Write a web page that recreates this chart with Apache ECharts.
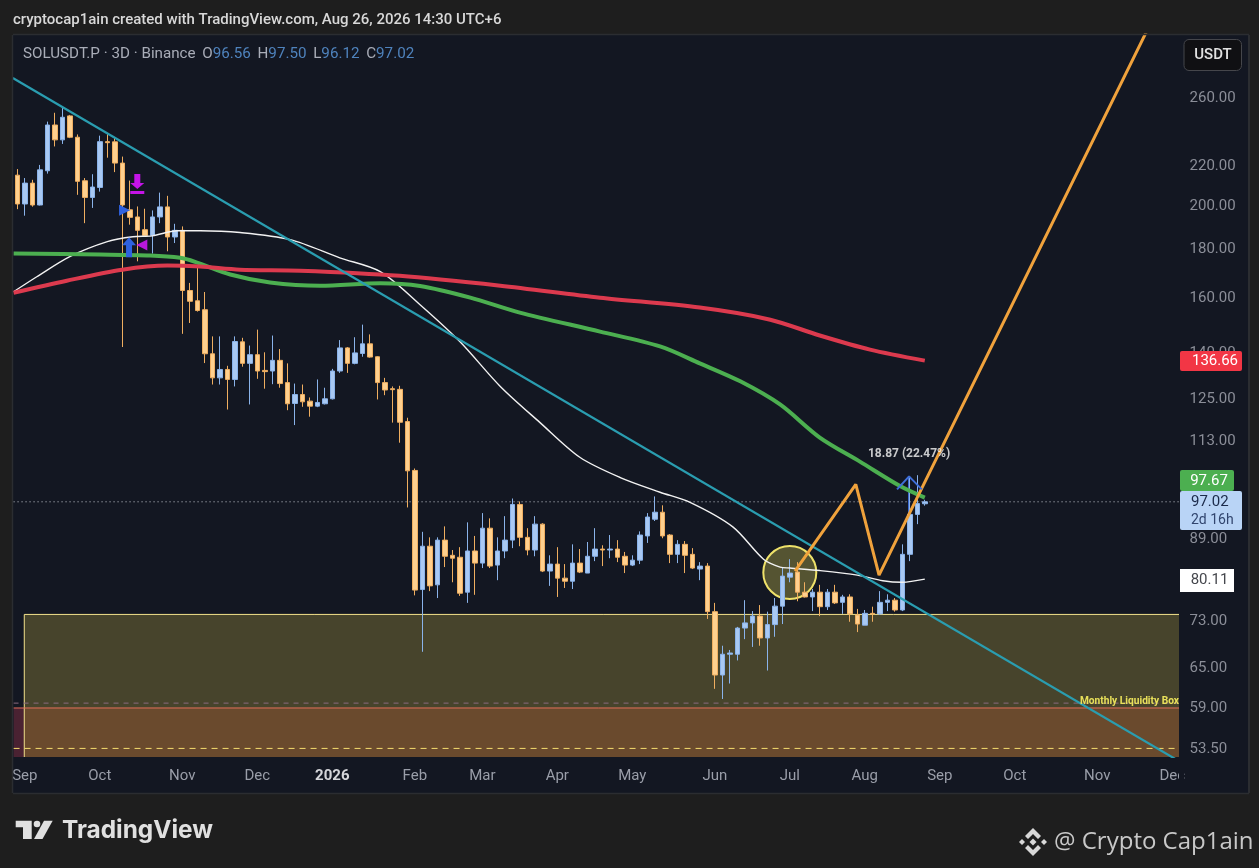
<!DOCTYPE html>
<html><head><meta charset="utf-8">
<style>html,body{margin:0;padding:0;background:#1e1e1e}#c{width:1259px;height:868px}</style>
<script src="https://cdn.jsdelivr.net/npm/echarts@6/dist/echarts.min.js"></script>
</head><body><div id="c"></div>
<script>
const opens=[214.5,200,210.4,199.5,216.8,242.3,233.7,247.7,235.2,211.6,
203.2,208.2,232.7,232.6,220.9,197.2,193.8,187.9,185.3,193.8,
198.6,184.6,187.6,162.1,158.1,154.7,139,131.1,133.8,130.6,
143.1,135.8,138.7,133.5,133.3,136.8,129.6,123.2,125.9,123.9,
122.4,123.1,124.6,133.3,141,135.8,139.1,142.4,138,129.6,
127.7,127.5,117.9,104.7,78.4,87.1,79.3,88.4,85.2,84.8,
77.9,86.1,83.6,91,83.2,86.1,88.4,96.4,89,86.3,
91.9,82,83.4,80.6,80,83.6,81.6,85,86.5,86.3,
86.5,85,83.2,84.2,89.3,93,94.6,89.5,85.4,87.5,
85.4,82.4,83,74.3,63.7,67,67,71.4,72.3,73.5,
69.7,72,75.3,80.8,81.8,77.9,77,77.9,75.2,77.9,
76,77,73.7,71.9,74,73.9,76,76.4,74.6,85.4,
94.1,96.56];
const closes=[200,210.4,199.5,217.3,242.3,233.7,246.9,235.2,211.3,203.2,
208.4,232.7,232.1,220.9,199.5,193.6,187.6,185.3,193.8,198.6,
184.6,187.6,162.1,157.9,154.4,139,131.1,133.8,130.6,143.2,
135.8,138.7,133.3,133.1,136.8,129.3,123.1,125.9,123.7,122.4,
123.5,124.6,133.3,141,135.8,139.3,142.4,137.9,129.6,127.3,
127.4,117.7,104.6,78.3,87.1,79.1,88.4,85,84.6,77.7,
86.1,83.6,91,83,86.1,88.4,96.4,89,86.3,91.9,
82,83.4,80.6,80,83.6,81.8,85,86.5,86.3,86.5,
84.8,83.2,84.2,89.5,93.5,94.6,89.3,85.4,87.5,85.2,
82.6,83,74.3,63.7,67,67.2,71.4,72.3,73.5,69.7,
72,75.3,81,81.6,77.9,77,77.9,75.2,77.9,75.9,
77,73.9,72.1,74,73.9,76,76.4,74.6,85.4,94.1,
96.6,97.02];
const highs=[217.7,213,212.1,219.9,244.3,249.6,253.2,248.3,236.8,213,
215,236.1,237,235.2,224.4,211.7,198.8,197.7,196.9,205.6,
204,190.6,189.4,165.1,171.2,161.5,145,145,135,145,
144.5,141.8,147.4,139.5,145.3,140.6,135.8,129.3,129,125,
130.6,128,134,143.7,141.3,144.7,149.2,145.7,138.2,131.1,
128.4,128.6,119,105.2,90.2,89,89,91.4,86.3,86.9,
92.3,89.3,94.4,93.2,89,93.7,97.8,97.1,91,93.7,
92.1,85.2,86.9,83.4,87.5,86.5,88,91,87.3,89.5,
88.4,85.9,85.2,90.3,94.4,98.3,96.2,89.7,88.4,88.2,
86.7,83.8,83.6,75.9,68.4,67.7,71.6,76.4,74.4,75.5,
74.3,76.8,82.8,84.4,83.8,79.8,78.5,79.3,78.5,79.3,
77.4,77.5,74.8,74.6,75.2,78.1,77.5,76.8,87.5,103.2,
103.5,97.5];
const lows=[197.5,194.4,198.7,199.3,215.3,230,231.4,234.7,204.5,190.9,
198.1,206.1,223.8,216.1,141.3,190.2,174,184.9,177.3,190.9,
178.3,181.9,145.9,149.8,154,135.9,129,129,121.4,128.4,
134.7,122.9,130.8,127.7,129.1,128,121.2,116.9,122.2,119.3,
122.1,122.9,124.4,132.7,132.7,135.5,138,137.7,124.4,125.7,
117.6,112,95.7,77.3,67.4,78.1,76.8,82.8,79.8,77.2,
75.9,77.4,82.6,82.6,80.2,84.6,86.7,87.1,85.2,85,
81.8,79.1,77,78.7,78.5,81.6,81.6,84,83,84.6,
83.8,81.6,83,83.4,87.8,92.6,88.8,83.6,83.6,81.6,
82.4,80.2,73,61.6,60.1,62.4,66,69.5,68.2,68.4,
64.4,69.9,72.1,79.8,76.2,76.9,74.4,73.5,74.6,75.7,
73.9,72.5,70.7,71.9,72.5,73.7,74.4,74.3,74.4,84,
91.9,96.12];
const monthLabels={1:'Sep',11:'Oct',22:'Nov',32:'Dec',42:'2026',53:'Feb',62:'Mar',72:'Apr',82:'May',93:'Jun',103:'Jul',113:'Aug',123:'Sep',133:'Oct',144:'Nov',154:'Dec'};
const slotCount=156;
const priceTicks=[260,220,200,180,160,140,125,113,89,73,65,59,53.5];
const whiteMA=[[-0.5,161.6],[2.6,167.6],[7,176],[12,182.5],[15.4,184.7],[18,185.1],[21.3,187.4],[24.4,187.4],[29.7,186.6],[36.4,183.4],[43,175.5],[48.4,169.7],[53.7,156.6],[59,143.2],[64.4,128.4],[69.7,117.6],[75,108.1],[80.4,102.9],[85.7,99.3],[89.7,96.9],[95.4,91.3],[99.5,84.4],[101.7,82.8],[103,82.6],[107,82.1],[112,81.2],[115.4,80.1],[118,79.8],[121,80.4]];
const greenMA=[[-0.5,177.3],[11,176.9],[17.7,176.5],[21.7,175.5],[23.7,173.8],[28.4,168.5],[33.7,165.3],[40.4,164],[48.4,165],[53.7,163.9],[60.4,159.3],[67,153.6],[77.7,146.7],[85.7,141.5],[91,135.8],[96.4,130],[101.7,122.9],[107,113.4],[112.4,106.9],[117.7,100.8],[121,98]];
const redMA=[[-0.5,161.2],[6.6,166],[14,170.5],[20,172.2],[24.4,171.8],[29.7,170.5],[37.7,170.1],[51,168],[64.4,164],[77.7,159.3],[91,155.5],[100.4,151],[107,145.3],[113.7,140.4],[121,136.7]];
const trendLine=[[-0.6,271.6],[155.4,51.4]];
const projection=[[103.7,82],[111.8,101.2],[114.9,81.2],[151,309]];
const boxTop=73.8, redTop=58.8, dashPurple=59.5, dashYellow=53.3, lastPrice=97.02;
const axisMin=52.2, axisMax=301.5;
const boxLeft=0.93;

const categories=Array.from({length:slotCount},(_,i)=>monthLabels[i]||'');
const candles=opens.map((o,i)=>[o,closes[i],lows[i],highs[i]]);
const FONT='Roboto, "Noto Sans", sans-serif';
const lineS=(data,color,width,extra)=>Object.assign({type:'line',xAxisIndex:1,yAxisIndex:0,data,symbol:'none',silent:true,lineStyle:{color,width},z:5},extra||{});
const poly=(pts,fill,z)=>({type:'polygon',shape:{points:pts},style:{fill},z:z||200});
const rect=(x,y,w,h,fill,z,extra)=>({type:'rect',shape:Object.assign({x,y,width:w,height:h},extra||{}),style:{fill},z:z||150});
const text=(x,y,t,font,fill,align,z,extra)=>({type:'text',x,y,z:z||201,style:Object.assign({text:t,font,fill,textAlign:align||'left',textVerticalAlign:'middle'},extra||{})});

const chevrons=[];
const cx=1033,cy=842;
const chev=(ang)=>{const a=ang*Math.PI/180;const R=(px,py)=>[cx+px*Math.cos(a)-py*Math.sin(a),cy+px*Math.sin(a)+py*Math.cos(a)];
 return poly([[0,-14],[8,-6],[5,-3],[0,-8],[-5,-3],[-8,-6]].map(p=>R(p[0],p[1])),'#d8d8d8');};
chevrons.push(chev(0),chev(180));
chevrons.push(poly([[cx-3.5,cy],[cx,cy-3.5],[cx+3.5,cy],[cx,cy+3.5]],'#d8d8d8'));
chevrons.push(poly([[cx-14,cy],[cx-11,cy-3],[cx-8,cy],[cx-11,cy+3]],'#d8d8d8'));
chevrons.push(poly([[cx+14,cy],[cx+11,cy-3],[cx+8,cy],[cx+11,cy+3]],'#d8d8d8'));

const option={
 animation:false,
 backgroundColor:'#1e1e1e',
 textStyle:{fontFamily:FONT},
 grid:{left:13.55,top:35,width:1170,height:722,containLabel:false,show:true,backgroundColor:'#131722',borderWidth:0},
 xAxis:[
  {type:'category',data:categories,boundaryGap:true,position:'bottom',
   axisLine:{show:false},axisTick:{show:false},splitLine:{show:false},
   axisLabel:{interval:0,hideOverlap:false,color:'#9a9ea9',fontSize:15,fontFamily:FONT,margin:12,
    formatter:v=>v==='2026'?'{b|2026}':v,rich:{b:{color:'#d5d6da',fontWeight:'bold',fontSize:15,fontFamily:FONT}}}},
  {type:'value',show:false,min:-0.5,max:155.5,position:'bottom',splitLine:{show:false}}
 ],
 yAxis:[{type:'log',position:'right',min:axisMin,max:axisMax,
   axisLine:{show:false},axisTick:{show:false},splitLine:{show:false},
   axisLabel:{customValues:priceTicks,color:'#8b8e98',fontSize:15,fontFamily:FONT,margin:6,align:'left',verticalAlign:'top',lineHeight:4,formatter:v=>(+v).toFixed(2)}}],
 series:[
  lineS([],'#000',0,{z:1,markArea:{silent:true,z:1,data:[
    [{coord:[boxLeft,boxTop],itemStyle:{color:'#47442c'}},{coord:[155.5,redTop]}],
    [{coord:[boxLeft,redTop],itemStyle:{color:'#6a4a2d'}},{coord:[155.5,axisMin]}],
    [{coord:[-0.5,redTop],itemStyle:{color:'#4a2232'}},{coord:[boxLeft,axisMin]}]
  ]}}),
  lineS([[boxLeft,axisMin],[boxLeft,boxTop],[155.5,boxTop]],'#f4e38c',1,{z:2}),
  lineS([[-0.5,redTop],[155.5,redTop]],'#e2705c',1,{z:2}),
  lineS([[-0.5,dashPurple],[155.5,dashPurple]],'#8a6a80',1,{z:2,lineStyle:{color:'#8a6a80',width:1,type:[5,5]}}),
  lineS([[-0.5,dashYellow],[155.5,dashYellow]],'#f6dd6e',1,{z:2,lineStyle:{color:'#f6dd6e',width:1,type:[6,5]}}),
  lineS([[-0.5,lastPrice],[155.5,lastPrice]],'#c9ccd4',1,{z:2,lineStyle:{color:'#c9ccd4',width:1,type:[1,3]}}),
  {type:'scatter',xAxisIndex:1,yAxisIndex:0,data:[[103,81.7]],symbol:'circle',symbolSize:53,silent:true,z:3,
   itemStyle:{color:'rgba(240,225,90,0.30)',borderColor:'#efe26a',borderWidth:2,opacity:1}},
  {type:'candlestick',xAxisIndex:0,yAxisIndex:0,data:candles,barWidth:5,z:4,silent:true,
   itemStyle:{color:'#a9c9f3',color0:'#ffd08e',borderColor:'#8ab3ea',borderColor0:'#efae60',borderWidth:1}},
  lineS(whiteMA,'#f2f2f2',1.4,{smooth:0.3}),
  lineS(greenMA,'#4caf50',4,{smooth:0.3}),
  lineS(redMA,'#dc3a4e',4,{smooth:0.3}),
  lineS(trendLine,'#2a9db0',2.2),
  lineS(projection,'#f0a23c',3,{z:6}),
  lineS([[117.3,100],[118.9,103.2],[120.6,100]],'#3f6fd8',2,{z:6}),
  lineS([[118.9,103.2],[118.9,93]],'#3f6fd8',2,{z:3}),
  {type:'scatter',xAxisIndex:1,yAxisIndex:0,silent:true,z:7,symbolSize:[14,20],itemStyle:{opacity:1},
   data:[{value:[16,210],symbol:'path://M4,0 L10,0 L10,9 L14,9 L7,15 L0,9 L4,9 Z M0,17 L14,17 L14,20 L0,20 Z',itemStyle:{color:'#c414e8',opacity:1}},
    {value:[14.9,180],symbol:'path://M7,0 L14,8 L10,8 L10,20 L4,20 L4,8 L0,8 Z',itemStyle:{color:'#2f62e0',opacity:1}},
    {value:[14.3,197],symbol:'triangle',symbolSize:11,symbolRotate:-90,itemStyle:{color:'#2f62e0',opacity:1}},
    {value:[16.6,181],symbol:'triangle',symbolSize:11,symbolRotate:90,itemStyle:{color:'#b818dc',opacity:1}}]},
  {type:'scatter',xAxisIndex:1,yAxisIndex:0,silent:true,z:8,symbolSize:1,itemStyle:{color:'rgba(0,0,0,0)'},
   data:[[118.9,108.9]],label:{show:true,position:'inside',formatter:'18.87 (22.47%)',color:'#f6f6f6',fontSize:12,fontWeight:'bold',fontFamily:FONT}}
 ],
 graphic:{elements:[
  rect(0,0,1259,868,'#1e1e1e',-100),
  rect(13,35,1236,758,'#131722',-90),
  rect(1179,35,5,758,'#131722',150),
  {type:'line',shape:{x1:1249,y1:35,x2:1249,y2:793},style:{stroke:'#2b2d31',lineWidth:2},z:150},
  {type:'line',shape:{x1:13,y1:793.5,x2:1249,y2:793.5},style:{stroke:'#2b2d31',lineWidth:1.5},z:150},
  {type:'line',shape:{x1:13,y1:34.5,x2:1249,y2:34.5},style:{stroke:'#2b2d31',lineWidth:1.5},z:150},
  {type:'line',shape:{x1:12.5,y1:35,x2:12.5,y2:793},style:{stroke:'#2b2d31',lineWidth:1.5},z:150},
  text(13,20,'cryptocap1ain created with TradingView.com, Aug 26, 2026 14:30 UTC+6','500 15px '+FONT,'#d8d8d8'),
  {type:'text',x:23,y:54,z:201,style:{text:'{a|SOLUSDT.P · 3D · Binance}  {k|O}{v|96.56}  {k|H}{v|97.50}  {k|L}{v|96.12}  {k|C}{v|97.02}',textVerticalAlign:'middle',
    rich:{a:{fill:'#a9adb8',font:'15.2px '+FONT},k:{fill:'#a9adb8',font:'15.2px '+FONT},v:{fill:'#4f83bd',font:'15.2px '+FONT}}}},
  text(1179,701,'Monthly Liquidity Box','bold 10.2px '+FONT,'#e8e05a','right'),
  {type:'rect',shape:{x:1184,y:39.5,width:57.5,height:31,r:5},style:{fill:'#101013',stroke:'#45464b',lineWidth:1},z:160},
  text(1213,55,'USDT','500 15px '+FONT,'#e2e2e2','center'),
  rect(1180,351,62,20,'#f23645',170,{r:2}),
  text(1215,361.5,'136.66','15px '+FONT,'#ffffff','center'),
  rect(1180,470,54,21,'#4caf50',170,{r:2}),
  text(1209,481,'97.67','15px '+FONT,'#ffffff','center'),
  rect(1180,491,62,39,'#b9d4f6',171,{r:2}),
  text(1191,502,'97.02','15px '+FONT,'#1b2a4a','left',172),
  text(1191,520,'2d 16h','14px '+FONT,'#31456e','left',172),
  rect(1180,569,54,23,'#ffffff',170),
  text(1209.5,580.5,'80.11','15px '+FONT,'#45474d','center'),
  poly([[15.7,820.7],[31.7,820.7],[31.7,839],[23,839],[23,827.3],[15.7,827.3]],'#e0e0e0'),
  {type:'circle',shape:{cx:37,cy:824,r:3.3},style:{fill:'#e0e0e0'},z:200},
  poly([[44,820.7],[52.7,820.7],[42.5,839],[34,839]],'#e0e0e0'),
  text(62,831,'TradingView','bold 24.4px Inter, '+FONT,'#e0e0e0'),
  ...chevrons,
  text(1054,842,'@ Crypto Cap1ain','24px "Open Sans", '+FONT,'#c8c8c8')
 ]}
};
const chart=echarts.init(document.getElementById('c'),null,{renderer:'canvas'});
chart.setOption(option);
</script></body></html>
